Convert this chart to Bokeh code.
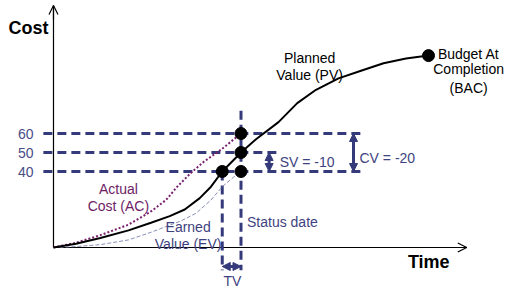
from bokeh.plotting import figure
from bokeh.models import Range1d, Arrow, OpenHead, NormalHead
from bokeh.core.properties import value
from bokeh.embed import file_html
from bokeh.resources import INLINE

# ---- data ----
pv_t = [0, 6, 12.5, 20, 26, 31, 35, 39, 42, 45, 50, 54, 60, 65, 70, 76, 82, 88, 94, 100]
pv_v = [0, 2, 5, 9, 13, 16.5, 20, 26, 32, 40, 50, 57, 66, 76, 83, 89, 93, 97, 99.5, 101]
ac_t = [0, 6, 12.5, 20, 26, 30, 33, 36.5, 40, 45, 50]
ac_v = [0, 2.5, 6.5, 12, 19, 25, 32, 39, 45, 52, 60]
ev_t = [0, 6, 12.5, 20, 26, 30, 34, 38, 42, 45, 48, 50]
ev_v = [0, 0.5, 1.5, 4, 8, 11, 14, 18, 25, 32, 37, 40]
levels = [60, 50, 40]
level_labels = ["60", "50", "40"]
status_t = 50
tv_t = 45
bac_t, bac_v = 100, 101
sv_label = "SV = -10"
cv_label = "CV = -20"

NAVY = "#343a7a"
TXT = "#3e4280"
FONT = value("Liberation Sans")

p = figure(width=514, height=290, output_backend="svg", toolbar_location=None,
           x_range=Range1d(-14.13, 122.93), y_range=Range1d(-22.63, 130),
           x_axis_location=None, y_axis_location=None, min_border=0)
p.outline_line_color = None
p.grid.visible = False
p.background_fill_color = "white"

# axes: shafts as segments, open heads as short arrows
p.segment(x0=[0, 0], y0=[0, 0], x1=[0, 110.2], y1=[127.4, 0], line_color="black", line_width=1.2)
p.add_layout(Arrow(end=OpenHead(size=9, line_width=1.2), x_start=0, y_start=120, x_end=0, y_end=127.4,
                   line_width=1.2, line_color="black"))
p.add_layout(Arrow(end=OpenHead(size=9, line_width=1.2), x_start=105, y_start=0, x_end=110.2, y_end=0,
                   line_width=1.2, line_color="black"))

# horizontal dashed level lines
x_ends = [82.4, 60.5, 82.4]
p.segment(x0=[-2.7] * 3, y0=levels, x1=x_ends, y1=levels, line_color=NAVY,
          line_width=3, line_dash="9 5")
# vertical dashed lines
p.segment(x0=[status_t, tv_t], y0=[72, 40], x1=[status_t, tv_t], y1=[-12, -12],
          line_color=NAVY, line_width=3, line_dash="9 5")

# curves
p.line(ev_t, ev_v, line_color="#8a8fb6", line_width=1, line_dash="4 2")
p.line(ac_t, ac_v, line_color="#7a1f6e", line_width=2, line_dash="2 2")
p.line(pv_t, pv_v, line_color="black", line_width=2)

# variance arrows
def darrow(x0, y0, x1, y1):
    p.add_layout(Arrow(start=NormalHead(size=8, fill_color=NAVY, line_color=NAVY),
                       end=NormalHead(size=8, fill_color=NAVY, line_color=NAVY),
                       x_start=x0, y_start=y0, x_end=x1, y_end=y1,
                       line_width=3, line_color=NAVY))

darrow(57.5, 50, 57.5, 40)
darrow(80, 60, 80, 40)
darrow(tv_t, -10, status_t, -10)

# points
p.scatter([tv_t, status_t, status_t, status_t, bac_t], [40, 60, 50, 40, bac_v],
          size=12, color="black")

# texts
p.text(x=[-5.3] * 3, y=levels, text=level_labels, text_align="right", text_baseline="middle",
       text_font=FONT, text_font_size="14px", text_color="#4a4c86")
p.text(x=[-12], y=[115.5], text=["Cost"], text_font=FONT, text_font_size="18px",
       text_font_style="bold", text_baseline="middle", text_color="black")
p.text(x=[94.5], y=[-7.5], text=["Time"], text_font=FONT, text_font_size="18px",
       text_font_style="bold", text_baseline="middle", text_color="black")

def tlines(x, ys, lines, color, align="center"):
    p.text(x=[x] * len(lines), y=ys, text=lines, text_align=align, text_baseline="middle",
           text_font=FONT, text_font_size="14px", text_color=color)

tlines(68.3, [100, 91], ["Planned", "Value (PV)"], "black")
tlines(110.7, [102, 93.7, 84.2], ["Budget At", "Completion", "(BAC)"], "black")
tlines(17.3, [31, 22], ["Actual", "Cost (AC)"], "#6e1d66")
tlines(35.9, [11, 2], ["Earned", "Value (EV)"], TXT)
tlines(51.6, [13.2], ["Status date"], TXT, align="left")
tlines(60.3, [45], [sv_label], TXT, align="left")
tlines(81.6, [47.3], [cv_label], TXT, align="left")
tlines(47.7, [-17.5], ["TV"], TXT)

open("out.html", "w").write(file_html(p, INLINE))
